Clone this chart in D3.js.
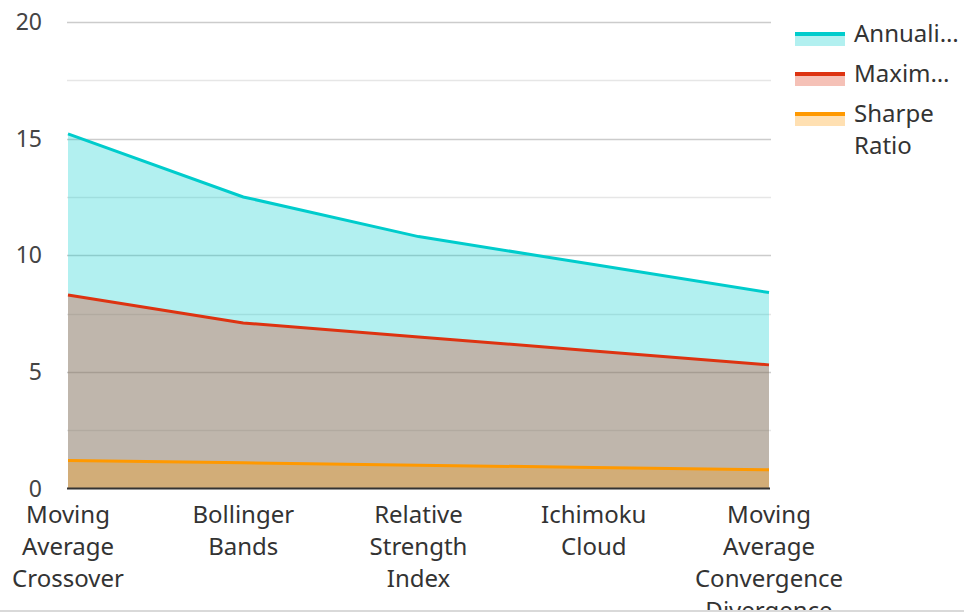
<!DOCTYPE html>
<html>
<head>
<meta charset="utf-8">
<script src="https://cdn.jsdelivr.net/npm/d3@7"></script>
<style>
  html, body { margin: 0; padding: 0; background: #fff; }
  svg { display: block; font-family: "Noto Sans", "Open Sans", sans-serif; }
</style>
</head>
<body>
<svg id="chart" width="964" height="614"></svg>
<script>
// Trading strategies compared on three performance measures
const strategies = [
  ["Moving", "Average", "Crossover"],
  ["Bollinger", "Bands"],
  ["Relative", "Strength", "Index"],
  ["Ichimoku", "Cloud"],
  ["Moving", "Average", "Convergence", "Divergence"]
];
const annualizedReturn = [15.2, 12.5, 10.8, 9.6, 8.4];
const maxDrawdown = [8.3, 7.1, 6.5, 5.9, 5.3];
const sharpeRatio = [1.2, 1.1, 1.0, 0.9, 0.8];
const seriesNames = ["Annualized Return", "Maximum Drawdown", "Sharpe Ratio"];
const legendLabels = [["Annuali…"], ["Maxim…"], ["Sharpe", "Ratio"]];
const seriesColors = ["#00cccc", "#dd3311", "#ff9900"];
const yTicks = [0, 5, 10, 15, 20];
const yMinorTicks = [2.5, 7.5, 12.5, 17.5];

const series = [annualizedReturn, maxDrawdown, sharpeRatio];
const svg = d3.select("#chart");

const plotLeft = 68, plotRight = 769, plotTop = 22, plotBottom = 488.5;
const x = d3.scalePoint().domain(d3.range(strategies.length)).range([plotLeft, plotRight]);
const y = d3.scaleLinear().domain([0, 20]).range([plotBottom, plotTop]);

svg.append("defs").append("clipPath").attr("id", "pageClip")
  .append("rect").attr("x", 0).attr("y", 0).attr("width", 964).attr("height", 610);

const root = svg.append("g").attr("clip-path", "url(#pageClip)");

// grid lines
root.append("g").selectAll("line").data(yMinorTicks).join("line")
  .attr("x1", plotLeft - 1).attr("x2", plotRight + 2)
  .attr("y1", d => Math.round(y(d)) + 0.5).attr("y2", d => Math.round(y(d)) + 0.5)
  .attr("stroke", "#e6e6e6").attr("stroke-width", 1.5);
root.append("g").selectAll("line").data(yTicks.filter(d => d > 0)).join("line")
  .attr("x1", plotLeft - 1).attr("x2", plotRight + 2)
  .attr("y1", d => Math.round(y(d)) + 0.5).attr("y2", d => Math.round(y(d)) + 0.5)
  .attr("stroke", "#cccccc").attr("stroke-width", 1.5);

// y tick labels
root.append("g").selectAll("text").data(yTicks).join("text")
  .attr("x", 42).attr("y", d => y(d))
  .attr("dy", "0.35em").attr("text-anchor", "end")
  .attr("font-size", 23).attr("fill", "#444")
  .text(d => d);

// areas and lines, each drawn from zero
const area = d3.area().x((d, i) => x(i)).y0(y(0)).y1(d => y(d));
const line = d3.line().x((d, i) => x(i)).y(d => y(d));

series.forEach((vals, k) => {
  root.append("path").datum(vals).attr("d", area)
    .attr("fill", seriesColors[k]).attr("fill-opacity", 0.3);
});
series.forEach((vals, k) => {
  root.append("path").datum(vals).attr("d", line)
    .attr("fill", "none").attr("stroke", seriesColors[k]).attr("stroke-width", 3);
});

// baseline
root.append("line").attr("x1", plotLeft - 1).attr("x2", plotRight + 1)
  .attr("y1", y(0)).attr("y2", y(0)).attr("stroke", "#333").attr("stroke-width", 2);

// x tick labels
const xl = root.append("g").selectAll("text").data(strategies).join("text")
  .attr("text-anchor", "middle").attr("font-size", 24).attr("fill", "#333")
  .attr("transform", (d, i) => `translate(${x(i)},${plotBottom + 34})`);
xl.selectAll("tspan").data(d => d).join("tspan")
  .attr("x", 0).attr("y", (d, j) => j * 32).text(d => d);

// legend
const lg = root.append("g").attr("transform", "translate(795,0)");
const rows = lg.selectAll("g").data(seriesNames).join("g")
  .attr("transform", (d, i) => `translate(0,${32 + i * 40})`);
rows.append("rect").attr("x", 0).attr("y", 3).attr("width", 50).attr("height", 11)
  .attr("fill", (d, i) => seriesColors[i]).attr("fill-opacity", 0.3);
rows.append("rect").attr("x", 0).attr("y", 0).attr("width", 50).attr("height", 4)
  .attr("fill", (d, i) => seriesColors[i]);
const lt = rows.append("text").attr("font-size", 24).attr("fill", "#333")
  .attr("transform", "translate(59,2)");
lt.selectAll("tspan").data((d, i) => legendLabels[i]).join("tspan")
  .attr("x", 0).attr("y", (d, j) => j * 32).attr("dy", "0.35em").text(d => d);
lt.append("title").text(d => d);

// bottom border
svg.append("line").attr("x1", 0).attr("x2", 964).attr("y1", 611).attr("y2", 611)
  .attr("stroke", "#d9d9d9").attr("stroke-width", 2);
</script>
</body>
</html>
